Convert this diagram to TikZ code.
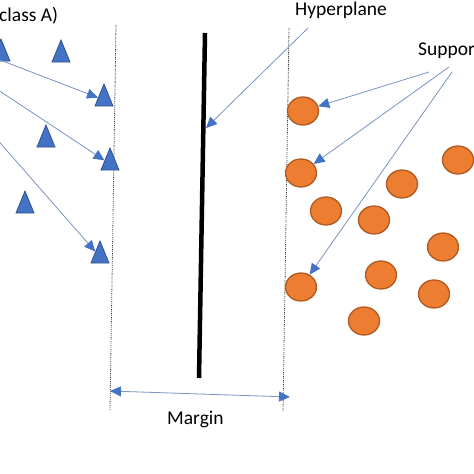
\documentclass[tikz,border=0pt]{standalone}
\usepackage{fontspec}
\setmainfont{Carlito}
\usetikzlibrary{arrows.meta,shapes.geometric}
\definecolor{trifill}{HTML}{4472C4}
\definecolor{triedge}{HTML}{2F528F}
\definecolor{dotfill}{HTML}{ED7D31}
\definecolor{dotedge}{HTML}{AE5A21}
\definecolor{linecol}{HTML}{7A93C2}
\definecolor{tipcol}{HTML}{4472C4}
\tikzset{btip/.tip={Triangle[width=10pt,length=11pt,fill=tipcol,color=tipcol]}}

\begin{document}
\begin{tikzpicture}[x=1pt, y=-1pt, every node/.style={font=\fontsize{19.5}{23}\selectfont}, tri/.style={draw=triedge, fill=trifill, isosceles triangle, isosceles triangle stretches, rotate=90, minimum width=18pt, minimum height=22pt, inner sep=0pt, line width=0.8pt}, dot/.style={draw=dotedge, fill=dotfill, ellipse, minimum width=31pt, minimum height=28pt, inner sep=0pt, line width=1.3pt}, ptr/.style={draw=linecol, line width=0.8pt, -btip}, marg/.style={draw=black!75, dash pattern=on 1.5pt off 1pt on 0.5pt off 1pt, line width=0.8pt}]
	\useasboundingbox (0,0) rectangle (474,474); \clip (0,0) rectangle (474,474);
	\node[anchor=base west, inner sep=0pt] (lblA) at (-1,21) {class A)};
	\node[anchor=base west, inner sep=0pt] (lblH) at (295,15) {Hyperplane};
	\node[anchor=base west, inner sep=0pt] (lblS) at (418,55) {Suppor};
	\node[anchor=base west, inner sep=0pt] (lblM) at (167,424) {Margin};
	\coordinate (ml1) at (116,25); \coordinate (ml2) at (110,410);
	\coordinate (mr1) at (289,28); \coordinate (mr2) at (283,412);
	\draw[marg] (ml1) -- (ml2); \draw[marg] (mr1) -- (mr2);
	\coordinate (hp1) at (205,33); \coordinate (hp2) at (199,378);
	\draw[line width=4.5pt] (hp1) -- (hp2);
	\foreach \n/\x/\y in {1/1/55, 2/61/56, 3/104/100, 4/46/141, 5/110/164, 6/25/207, 7/100/257} {\node[tri] (t\n) at (\x,\y) {};}
	\foreach \n/\x/\y in {1/303/111, 2/301/173, 3/458/160, 4/402/184, 5/326/211, 6/374/220, 7/443/247, 8/381/275, 9/301/287, 10/434/294, 11/364/321} {\node[dot] (c\n) at (\x,\y) {};}
	\coordinate (sa1) at (-5,58); \coordinate (sa2) at (-5,88); \coordinate (sa3) at (-5,137);
	\draw[ptr] (sa1) -- (t3); \draw[ptr] (sa2) -- (t5); \draw[ptr] (sa3) -- (t7);
	\coordinate (sh) at (308,28); \coordinate (hpm) at (206,128);
	\draw[ptr] (sh) -- (hpm);
	\coordinate (sb1) at (429,72); \coordinate (sb2) at (449,67); \coordinate (sb3) at (452,72);
	\draw[ptr] (sb1) -- (c1); \draw[ptr] (sb2) -- (c2); \draw[ptr] (sb3) -- (c9);
	\coordinate (m1) at (110,391); \coordinate (m2) at (290,397);
	\draw[ptr, btip-btip] (m1) -- (m2);
\end{tikzpicture}
\end{document}
